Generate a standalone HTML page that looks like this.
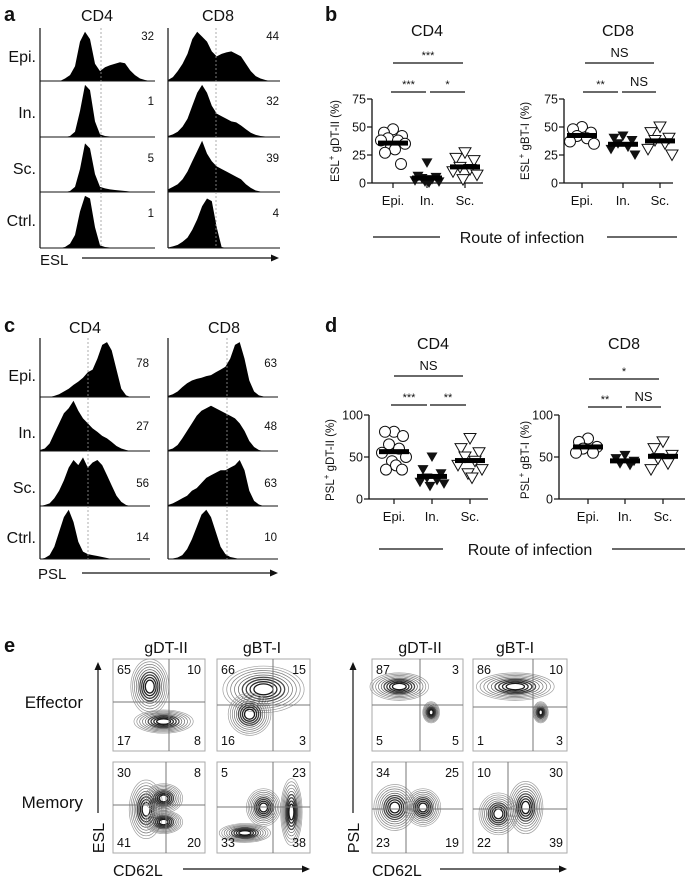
<!DOCTYPE html>
<html><head><meta charset="utf-8">
<style>
html,body{margin:0;padding:0;background:#fff;}
svg{display:block;font-family:"Liberation Sans",Arial,sans-serif;}
</style></head>
<body>
<svg id="fig" width="685" height="881" viewBox="0 0 685 881" xmlns="http://www.w3.org/2000/svg"></svg>
<script>
// ---------- DATA ----------
const histA_CD4_Epi  = [0,0,0,0,0,0.05,0.12,0.3,0.8,1,0.85,0.35,0.2,0.28,0.32,0.35,0.38,0.36,0.22,0.12,0.05,0.02,0,0];
const histA_CD4_In   = [0,0,0,0,0,0,0.02,0.1,0.5,1,0.9,0.3,0.05,0.02,0.01,0,0,0,0,0,0,0,0,0];
const histA_CD4_Sc   = [0,0,0,0,0,0,0.02,0.1,0.45,0.95,0.85,0.35,0.1,0.07,0.05,0.04,0.03,0.02,0.01,0,0,0,0,0];
const histA_CD4_Ctrl = [0,0,0,0,0,0.02,0.08,0.25,0.7,1,0.95,0.4,0.05,0.02,0.01,0,0,0,0,0,0,0,0,0];
const histA_CD8_Epi  = [0.02,0.08,0.2,0.35,0.55,0.85,1,0.9,0.8,0.6,0.5,0.55,0.58,0.6,0.55,0.5,0.35,0.2,0.1,0.05,0.02,0,0,0];
const histA_CD8_In   = [0.02,0.05,0.1,0.2,0.35,0.6,0.85,1,0.85,0.6,0.45,0.4,0.35,0.3,0.28,0.22,0.15,0.08,0.04,0.02,0.01,0,0,0];
const histA_CD8_Sc   = [0.05,0.1,0.15,0.25,0.4,0.6,0.8,1,0.75,0.6,0.5,0.45,0.4,0.35,0.3,0.25,0.15,0.08,0.03,0.01,0,0,0,0];
const histA_CD8_Ctrl = [0.01,0.03,0.06,0.12,0.2,0.35,0.55,0.8,0.95,0.9,0.4,0.02,0,0,0,0,0,0,0,0,0,0,0,0];
const histC_CD4_Epi  = [0,0,0,0.02,0.05,0.1,0.15,0.22,0.28,0.35,0.45,0.5,0.7,0.95,1,0.85,0.5,0.15,0.03,0,0,0,0,0];
const histC_CD4_In   = [0.02,0.05,0.15,0.35,0.55,0.75,0.85,1,0.8,0.65,0.55,0.45,0.38,0.3,0.25,0.18,0.1,0.05,0.02,0,0,0,0,0];
const histC_CD4_Sc   = [0,0.02,0.05,0.15,0.3,0.5,0.75,0.9,0.8,0.95,0.75,0.85,0.9,0.8,0.6,0.4,0.2,0.08,0.02,0,0,0,0,0];
const histC_CD4_Ctrl = [0,0.02,0.08,0.25,0.55,0.85,1,0.75,0.35,0.15,0.1,0.08,0.06,0.04,0.02,0,0,0,0,0,0,0,0,0];
const histC_CD8_Epi  = [0.02,0.05,0.1,0.18,0.25,0.3,0.33,0.35,0.38,0.4,0.45,0.5,0.55,0.7,0.95,1,0.7,0.3,0.1,0.03,0.01,0,0,0];
const histC_CD8_In   = [0.02,0.05,0.12,0.25,0.4,0.55,0.7,0.8,0.85,0.9,0.85,0.8,0.75,0.7,0.65,0.55,0.4,0.2,0.08,0.02,0,0,0,0];
const histC_CD8_Sc   = [0.02,0.05,0.1,0.15,0.2,0.3,0.35,0.45,0.55,0.6,0.65,0.7,0.7,0.75,0.8,0.9,0.7,0.3,0.1,0.03,0,0,0,0];
const histC_CD8_Ctrl = [0,0.01,0.03,0.08,0.2,0.4,0.65,0.9,1,0.85,0.55,0.25,0.1,0.04,0.02,0,0,0,0,0,0,0,0,0];
const histA_CD4_pct = ["32","1","5","1"];
const histA_CD8_pct = ["44","32","39","4"];
const histC_CD4_pct = ["78","27","56","14"];
const histC_CD8_pct = ["63","48","63","10"];
const rowLabels = ["Epi.","In.","Sc.","Ctrl."];
const routeCats = ["Epi.","In.","Sc."];

const eslCD4_Epi = [48,45,42,40,38,38,35,32,30,27,17];
const eslCD4_In  = [18,6,5,4,3,2,1,1,0];
const eslCD4_Sc  = [27,22,20,14,12,10,7,3];
const eslCD8_Epi = [50,48,45,42,40,37,35];
const eslCD8_In  = [42,40,38,35,32,30,25];
const eslCD8_Sc  = [50,45,40,38,35,30,25];
const pslCD4_Epi = [80,80,75,65,60,55,50,45,40,35,35];
const pslCD4_In  = [50,35,30,25,22,20,18,15];
const pslCD4_Sc  = [72,60,55,50,45,40,35,30,25];
const pslCD8_Epi = [72,68,62,60,55,55];
const pslCD8_In  = [52,48,45,42,40];
const pslCD8_Sc  = [68,60,52,48,42,35];
const eslTicks = [0,25,50,75];
const pslTicks = [0,50,100];

const quadESL_gDT_eff = ["65","10","17","8"];
const quadESL_gBT_eff = ["66","15","16","3"];
const quadESL_gDT_mem = ["30","8","41","20"];
const quadESL_gBT_mem = ["5","23","33","38"];
const quadPSL_gDT_eff = ["87","3","5","5"];
const quadPSL_gBT_eff = ["86","10","1","3"];
const quadPSL_gDT_mem = ["34","25","23","19"];
const quadPSL_gBT_mem = ["10","30","22","39"];

// ---------- DRAW ----------
const S = document.getElementById('fig');
const NS = 'http://www.w3.org/2000/svg';
function mk(tag, attrs, parent){
  const e = document.createElementNS(NS, tag);
  for (const k in attrs) e.setAttribute(k, attrs[k]);
  (parent||S).appendChild(e);
  return e;
}
function txt(x,y,s,size,anchor,weight,parent){
  const t = mk('text',{x:x,y:y,'font-size':size,'text-anchor':anchor||'start','font-weight':weight||'normal',fill:'#111'},parent);
  t.textContent = s;
  return t;
}
function line(x1,y1,x2,y2,w,col,parent){
  return mk('line',{x1:x1,y1:y1,x2:x2,y2:y2,stroke:col||'#111','stroke-width':w||1},parent);
}
function arrowH(x1,x2,y,name){
  const g = mk('g',{});
  
  
  line(x1,y,x2-6,y,1.2,'#111',g);
  mk('path',{d:`M${x2},${y} L${x2-8},${y-3.5} L${x2-8},${y+3.5} Z`,fill:'#111'},g);
}
function arrowV(x,y1,y2,name){
  const g = mk('g',{});
  
  
  line(x,y1,x,y2+6,1.2,'#111',g);
  mk('path',{d:`M${x},${y2} L${x-3.5},${y2+8} L${x+3.5},${y2+8} Z`,fill:'#111'},g);
}
function panelLetter(x,y,s){
  const t = txt(x,y,s,20,'start','bold');
  
  
}

function histColumn(x0,x1,top,baselines,series,pcts,dashX,numOff,name){
  const g = mk('g',{});
  
  
  const xs = i => x0 + i*(x1-x0)/23;
  for (let r=0;r<series.length;r++){
    const base = baselines[r];
    const prev = r===0 ? top : baselines[r-1];
    const h = (base-prev)*0.93;
    let d = `M${x0},${base}`;
    series[r].forEach((v,i)=>{ d += ` L${xs(i).toFixed(1)},${(base - v*h).toFixed(1)}`; });
    d += ` L${x1},${base} Z`;
    const p = mk('path',{d:d,fill:'#000'},g);
    
    line(x0,base,x1,base,1,'#111',g);
    const t = txt(x1-1, prev+numOff[r]+4, pcts[r], 11.5, 'end','normal',g);
    
  }
  line(x0,top,x0,baselines[baselines.length-1],1.2,'#111',g);
  line(dashX,top,dashX,baselines[baselines.length-1],0.8,'#999',g).setAttribute('stroke-dasharray','2,2');
}

// ----- Panel a -----
panelLetter(4,21,'a');
[['CD4',97],['CD8',218]].forEach(([s,x])=>{const t=txt(x,21,s,16,'middle');});
const aBase=[81,137,192,248], aRowY=[62,118,174,226];
rowLabels.forEach((s,i)=>{const t=txt(36,aRowY[i],s,16,'end');});
histColumn(40,155,28,aBase,[histA_CD4_Epi,histA_CD4_In,histA_CD4_Sc,histA_CD4_Ctrl],histA_CD4_pct,101,[8,20,21,21],'a-cd4');
histColumn(168,280,28,aBase,[histA_CD8_Epi,histA_CD8_In,histA_CD8_Sc,histA_CD8_Ctrl],histA_CD8_pct,216,[8,20,21,21],'a-cd8');
{const t=txt(40,265,'ESL',15);}
arrowH(82,279,258,'a-x-arrow');

// ----- Panel c -----
panelLetter(4,332,'c');
[['CD4',85],['CD8',224]].forEach(([s,x])=>{const t=txt(x,333,s,16,'middle');});
const cBase=[397,451,506,559], cRowY=[381,438,493,543];
rowLabels.forEach((s,i)=>{const t=txt(36,cRowY[i],s,16,'end');});
histColumn(40,150,338,cBase,[histC_CD4_Epi,histC_CD4_In,histC_CD4_Sc,histC_CD4_Ctrl],histC_CD4_pct,88,[25,29,32,31],'c-cd4');
histColumn(168,278,338,cBase,[histC_CD8_Epi,histC_CD8_In,histC_CD8_Sc,histC_CD8_Ctrl],histC_CD8_pct,227,[25,29,32,31],'c-cd8');
{const t=txt(38,579,'PSL',15);}
arrowH(82,278,573,'c-x-arrow');

// ----- Scatter panels -----
const jit=[0,-9,9,-5,5,-12,12,-2,2,-8,8];
function marker(kind,x,y,g){
  let e;
  if(kind==='circle') e=mk('circle',{cx:x,cy:y,r:5.5,fill:'#fff',stroke:'#111','stroke-width':1},g);
  else if(kind==='tri-filled') e=mk('path',{d:`M${x-5.5},${y-4.5} L${x+5.5},${y-4.5} L${x},${y+5} Z`,fill:'#111'},g);
  else e=mk('path',{d:`M${x-6},${y-5} L${x+6},${y-5} L${x},${y+5.5} Z`,fill:'#fff',stroke:'#111','stroke-width':1},g);
  return e;
}
function scatter(cfg){
  const g = mk('g',{});
  
  
  const yS = v => cfg.y0 - v/cfg.max*(cfg.y0-cfg.yTop);
  line(cfg.ax,cfg.yTop,cfg.ax,cfg.y0,1.3,'#111',g);
  line(cfg.ax,cfg.y0,cfg.xEnd,cfg.y0,1.3,'#111',g);
  cfg.ticks.forEach(v=>{
    line(cfg.ax-5,yS(v),cfg.ax,yS(v),1.2,'#111',g);
    const t=txt(cfg.ax-6,yS(v)+4.5,String(v),12.5,'end','normal',g);
    
  });
  routeCats.forEach((c,i)=>{
    line(cfg.cats[i],cfg.y0,cfg.cats[i],cfg.y0+5,1.2,'#111',g);
    const t=txt(cfg.cats[i],cfg.y0+22,c,13,'middle','normal',g);
    
  });
  const kinds=['circle','tri-filled','tri-open'];
  cfg.series.forEach((arr,i)=>{
    const mean = arr.reduce((a,b)=>a+b,0)/arr.length;
    arr.forEach((v,j)=>{
      const m=marker(kinds[i],cfg.cats[i]+jit[j%jit.length],yS(v),g);
      
    });
    const b=mk('rect',{x:cfg.cats[i]-15,y:yS(mean)-2.5,width:30,height:5,fill:'#000'},g);
    
  });
  const yt=mk('text',{x:0,y:0,'font-size':11.5,'text-anchor':'middle',fill:'#111',transform:`translate(${cfg.ylx},${cfg.lyc}) rotate(-90)`},g);
  
  const t1=mk('tspan',{},yt); t1.textContent=cfg.ylab[0];
  const t2=mk('tspan',{dy:-5,'font-size':8},yt); t2.textContent='+';
  const t3=mk('tspan',{dy:5},yt); t3.textContent=' '+cfg.ylab[1];
  cfg.sig.forEach(s=>{
    line(s[0],s[2],s[1],s[2],1.2,'#111',g);
    const isStar = s[3].indexOf('*')>=0;
    const t=txt((s[0]+s[1])/2,s[2]-(isStar?4:6),s[3],isStar?11:13,'middle','normal',g);
    
  });
  const tt=txt(cfg.titleX,cfg.titleY,cfg.title,16,'middle','normal',g);
  
}
panelLetter(325,21,'b');
scatter({name:'b-cd4',ax:372,y0:183,yTop:99,max:75,xEnd:483,cats:[393,427,465],ticks:eslTicks,series:[eslCD4_Epi,eslCD4_In,eslCD4_Sc],ylx:339,lyc:141,ylab:['ESL','gDT-II (%)'],sig:[[393,463,63,'***'],[391,426,92,'***'],[430,465,92,'*']],title:'CD4',titleX:427,titleY:36});
scatter({name:'b-cd8',ax:564,y0:183,yTop:99,max:75,xEnd:673,cats:[582,623,660],ticks:eslTicks,series:[eslCD8_Epi,eslCD8_In,eslCD8_Sc],ylx:529,lyc:141,ylab:['ESL','gBT-I (%)'],sig:[[585,654,63,'NS'],[583,618,92,'**'],[622,656,92,'NS']],title:'CD8',titleX:618,titleY:36});
function route(cx,y,l1,l2,r1,r2,name){
  const g=mk('g',{});
  
  
  txt(cx,y+6,'Route of infection',16,'middle','normal',g);
  line(l1,y,l2,y,1.2,'#111',g); line(r1,y,r2,y,1.2,'#111',g);
}
route(522,237,373,440,607,677,'b-x-group-title');

panelLetter(325,332,'d');
scatter({name:'d-cd4',ax:369,y0:499,yTop:415,max:100,xEnd:488,cats:[394,432,470],ticks:pslTicks,series:[pslCD4_Epi,pslCD4_In,pslCD4_Sc],ylx:334,lyc:460,ylab:['PSL','gDT-II (%)'],sig:[[394,463,376,'NS'],[391,427,405,'***'],[430,466,405,'**']],title:'CD4',titleX:433,titleY:349});
scatter({name:'d-cd8',ax:559,y0:499,yTop:415,max:100,xEnd:685,cats:[588,625,663],ticks:pslTicks,series:[pslCD8_Epi,pslCD8_In,pslCD8_Sc],ylx:529,lyc:460,ylab:['PSL','gBT-I (%)'],sig:[[589,659,379,'*'],[588,622,407,'**'],[626,661,407,'NS']],title:'CD8',titleX:624,titleY:349});
route(530,549,379,443,612,685,'d-x-group-title');

// ----- Panel e -----
panelLetter(4,652,'e');
function flowBox(x0,x1,y0,y1,vx,hy,quad,blobs,name){
  const g=mk('g',{});
  
  
  mk('rect',{x:x0,y:y0,width:x1-x0,height:y1-y0,fill:'#fff',stroke:'#aaa','stroke-width':1},g);
  const w=x1-x0,h=y1-y0;
  blobs.forEach(b=>{
    const n=9;
    for(let k=0;k<n;k++){
      const f=1.15-k*0.11;
      const shade=Math.round(160-k*17);
      mk('ellipse',{cx:x0+b[0]*w,cy:y0+b[1]*h,rx:Math.max(1,b[2]*w*f),ry:Math.max(1,b[3]*h*f),fill:'none',stroke:`rgb(${shade},${shade},${shade})`,'stroke-width':k>4?1.3:0.7},g);
    }
  });
  line(vx,y0,vx,y1,1,'#777',g);
  line(x0,hy,x1,hy,1,'#777',g);
  const a=[[x0+4,y0+15,'start'],[x1-4,y0+15,'end'],[x0+4,y1-6,'start'],[x1-4,y1-6,'end']];
  quad.forEach((q,i)=>{const t=txt(a[i][0],a[i][1],q,12.5,a[i][2],'normal',g);});
}
flowBox(113,205,659,751,169,702,quadESL_gDT_eff,[[0.4,0.3,0.18,0.26],[0.55,0.68,0.28,0.11]],'e-esl-gdt-effector');
flowBox(217,310,659,751,273,705,quadESL_gBT_eff,[[0.5,0.33,0.38,0.22],[0.35,0.6,0.2,0.2]],'e-esl-gbt-effector');
flowBox(113,205,762,853,166,805,quadESL_gDT_mem,[[0.36,0.52,0.16,0.28],[0.55,0.66,0.18,0.11],[0.55,0.4,0.18,0.14]],'e-esl-gdt-memory');
flowBox(217,310,762,853,273,807,quadESL_gBT_mem,[[0.3,0.78,0.24,0.09],[0.8,0.55,0.1,0.32],[0.5,0.5,0.16,0.18]],'e-esl-gbt-memory');
flowBox(372,463,659,751,420,705,quadPSL_gDT_eff,[[0.3,0.3,0.28,0.13],[0.65,0.58,0.08,0.1]],'e-psl-gdt-effector');
flowBox(473,567,659,751,533,707,quadPSL_gBT_eff,[[0.45,0.3,0.36,0.13],[0.72,0.58,0.07,0.1]],'e-psl-gbt-effector');
flowBox(372,463,762,853,406,809,quadPSL_gDT_mem,[[0.25,0.5,0.2,0.22],[0.56,0.5,0.17,0.18]],'e-psl-gdt-memory');
flowBox(473,567,762,853,508,809,quadPSL_gBT_mem,[[0.27,0.57,0.18,0.2],[0.56,0.5,0.16,0.25]],'e-psl-gbt-memory');
[['gDT-II',166],['gBT-I',262],['gDT-II',420],['gBT-I',515]].forEach(([s,x],i)=>{const t=txt(x,653,s,16,'middle');});
{const t=txt(83,708,'Effector',17,'end');}
{const t=txt(83,808,'Memory',17,'end');}
arrowV(98,813,662,'e-esl-arrow');
arrowV(353,813,662,'e-psl-arrow');
{const t=mk('text',{x:0,y:0,'font-size':16,'text-anchor':'middle',fill:'#111',transform:'translate(104,838) rotate(-90)'});t.textContent='ESL';}
{const t=mk('text',{x:0,y:0,'font-size':16,'text-anchor':'middle',fill:'#111',transform:'translate(359,838) rotate(-90)'});t.textContent='PSL';}
{const t=txt(113,876,'CD62L',16);}
{const t=txt(372,876,'CD62L',16);}
arrowH(183,310,869,'e-cd62l-arrow-left');
arrowH(440,567,869,'e-cd62l-arrow-right');
</script>
</body></html>
